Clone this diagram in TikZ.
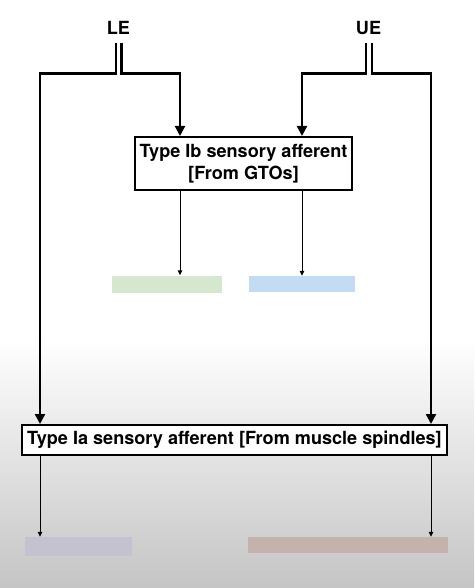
\documentclass[tikz,border=0pt]{standalone}
\usepackage{fontspec}
\setmainfont{TeX Gyre Heros}
\usepackage{xcolor}
\usetikzlibrary{arrows.meta,positioning}

\definecolor{ibgreen}{HTML}{D6E7D0}
\definecolor{ibblue}{HTML}{C3DCF3}
\definecolor{iapurple}{HTML}{C4C1D0}
\definecolor{iapink}{HTML}{C5B2AD}

\begin{document}
\begin{tikzpicture}[x=1pt,y=-1pt]
            \tikzstyle{every node}+=[inner sep=0pt]
            \tikzstyle{limbtext}=[font=\fontsize{18.1}{21.5}\selectfont\bfseries]
            \tikzstyle{typebox}=[limbtext, draw=black, line width=2pt, fill=white]
            \tikzstyle{blurbox}=[draw=none, minimum height=17pt]
            \tikzstyle{mainline}=[black, line width=2.3pt, -{Triangle[width=10pt,length=10pt]}]
            \tikzstyle{subline}=[black, line width=1pt, -{Triangle[width=4.5pt,length=5pt]}]
            \useasboundingbox (0,0) rectangle (474,588);
            \fill [white] (0,0) rectangle (474,588);
            \shade [top color=white, bottom color=black!23] (0,338) rectangle (474,588);
            \node [limbtext] (le) at (118.5,28) {LE};
            \node [limbtext] (ue) at (368.5,28) {UE};
            \node [typebox, minimum width=217pt, minimum height=53pt, align=center] (ib) at (243.5,163.5) {Type Ib sensory afferent\\{}[From GTOs]};
            \node [typebox, minimum width=425pt, minimum height=30pt] (ia) at (234.5,440) {Type Ia sensory afferent [From muscle spindles]};
            \node [blurbox, fill=ibgreen, minimum width=110pt] (ibleft) at (167,284) {};
            \node [blurbox, fill=ibblue, minimum width=106pt, minimum height=16pt] (ibright) at (302,284) {};
            \node [blurbox, fill=iapurple, minimum width=107pt, minimum height=19pt] (ialeft) at (78.5,546.5) {};
            \node [blurbox, fill=iapink, minimum width=200pt, minimum height=16pt] (iaright) at (348,545) {};
            \coordinate (leA) at (115.7,43);
            \coordinate (leB) at (121.6,43);
            \coordinate (ueA) at (366,43);
            \coordinate (ueB) at (371.8,43);
            \coordinate (leftturn) at (40,73.5);
            \coordinate (ibturnL) at (180,73.5);
            \coordinate (ibturnR) at (302,73.5);
            \coordinate (rightturn) at (431,73.5);
            \draw [mainline] (leA) |- (leftturn) -- (leftturn |- ia.north);
            \draw [mainline] (leB) |- (ibturnL) -- (ibturnL |- ib.north);
            \draw [mainline] (ueA) |- (ibturnR) -- (ibturnR |- ib.north);
            \draw [mainline] (ueB) |- (rightturn) -- (rightturn |- ia.north);
            \draw [subline] (ibturnL |- ib.south) -- (ibturnL |- ibleft.north);
            \draw [subline] (ibturnR |- ib.south) -- (ibturnR |- ibright.north);
            \draw [subline] (leftturn |- ia.south) -- (leftturn |- ialeft.north);
            \draw [subline] (rightturn |- ia.south) -- (rightturn |- iaright.north);
\end{tikzpicture}
\end{document}
